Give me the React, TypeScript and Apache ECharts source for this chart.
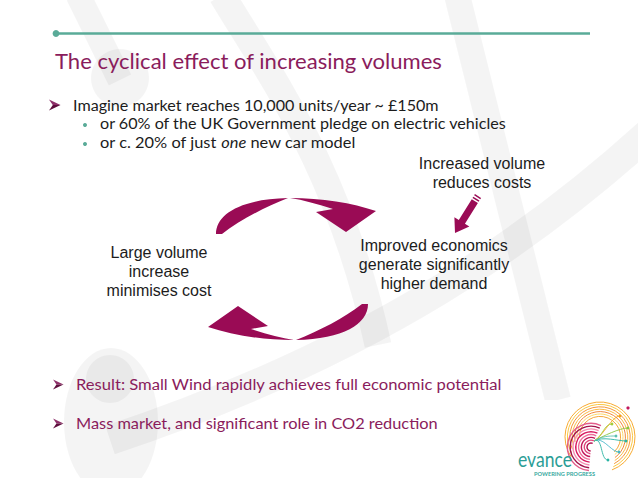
import React, { useEffect, useRef } from "react";
import * as echarts from "echarts";

// ---- slide content ----
const titleText = "The cyclical effect of increasing volumes";
const mainBullet = "Imagine market reaches 10,000 units/year ~ £150m";
const subBulletA = "or 60% of the UK Government pledge on electric vehicles";
const subBulletB = ["or c. 20% of just ", "one", " new car model"];
const resultLines = [
  "Result: Small Wind rapidly achieves full economic potential",
  "Mass market, and significant role in CO2 reduction",
];
const labelIncreased = ["Increased volume", "reduces costs"];
const labelImproved = ["Improved economics", "generate significantly", "higher demand"];
const labelLarge = ["Large volume", "increase", "minimises cost"];
const logoWord = "evance";
const logoTagline = "POWERING PROGRESS";

// ---- styling ----
const SLIDE_FONT = "Lato, 'Open Sans', sans-serif";
const DIAG_FONT = "'Liberation Sans', Arial, sans-serif";
const TITLE_COLOR = "#8a1c5c";
const MAGENTA = "#9a0b55";
const TEAL = "#5aab98";
const DARK = "#1c1c1c";
const BG_BAND = "rgba(0,0,0,0.045)";
const CENTRAL = 0.387; // Lato: baseline -> central offset (em)

let measureCtx: CanvasRenderingContext2D | null = null;
function measure(text: string, size: number, family: string, style = "normal", weight = "normal") {
  if (!measureCtx) measureCtx = document.createElement("canvas").getContext("2d");
  measureCtx!.font = `${style} ${weight} ${size}px ${family}`;
  return measureCtx!.measureText(text).width;
}

function txt(text: string, x: number, y: number, size: number, fill: string, o: any = {}) {
  const align = o.align || "left";
  const family = o.family || SLIDE_FONT;
  const fs = o.italic ? "italic" : "normal";
  const fw = o.bold ? "bold" : "normal";
  const font = `${fs} ${fw} ${size}px ${family}`;
  const sx = o.width ? o.width / measure(text, size, family, fs, fw) : o.scaleX || 1;
  return {
    type: "text",
    z: 10,
    x,
    y,
    scaleX: sx,
    style: {
      text,
      x: 0,
      y: 0,
      fill,
      font,
      textAlign: align,
      textVerticalAlign: "middle",
      align,
      verticalAlign: "middle",
    },
  };
}
// place by baseline for the slide font
function slideTxt(text: string, x: number, baseline: number, size: number, fill: string, o: any = {}) {
  return txt(text, x, baseline - CENTRAL * size, size, fill, o);
}

const CX = 292;
const CY = 269;
function pt(x: number, y: number, rot: boolean) {
  return rot ? `${2 * CX - x},${2 * CY - y}` : `${x},${y}`;
}
function leafPath(rot: boolean) {
  const f = (x: number, y: number) => pt(x, y, rot);
  return `M${f(216, 234)} C${f(216, 214)} ${f(241, 199)} ${f(288, 198)} C${f(265, 207)} ${f(240, 220)} ${f(222, 234)} Z`;
}
function arrowPath(rot: boolean) {
  const f = (x: number, y: number) => pt(x, y, rot);
  return `M${f(290, 198)} C${f(322, 198)} ${f(352, 203)} ${f(376, 211)} L${f(346, 232)} L${f(316, 212)} L${f(333, 209)} C${f(318, 204)} ${f(303, 200)} ${f(290, 198)} Z`;
}

function bulletArrow(els: any[], x0: number, y0: number, w: number, h: number) {
  const ym = y0 + h / 2;
  const tip = [x0 + w, ym];
  const notch = [x0 + w * 0.33, ym];
  els.push({ type: "polygon", z: 10, shape: { points: [[x0, y0], tip, notch] }, style: { fill: "#8e2f69" } });
  els.push({ type: "polygon", z: 10, shape: { points: [notch, tip, [x0, y0 + h]] }, style: { fill: "#5e0d3d" } });
}

function buildElements() {
  const els: any[] = [];

  // background watermark bands
  els.push({ type: "line", shape: { x1: 78, y1: -5, x2: 120, y2: 80 }, style: { stroke: BG_BAND, lineWidth: 25 } });
  els.push({ type: "circle", shape: { cx: 120, cy: 78, r: 29 }, style: { fill: BG_BAND } });
  els.push({
    type: "bezierCurve",
    shape: { x1: 222, y1: -5, cpx1: 270, cpy1: 75, cpx2: 340, cpy2: 170, x2: 378, y2: 345 },
    style: { stroke: BG_BAND, lineWidth: 27, fill: "none" },
  });
  els.push({ type: "line", shape: { x1: 457, y1: -5, x2: 558, y2: 400 }, style: { stroke: BG_BAND, lineWidth: 26 } });
  els.push({
    type: "bezierCurve",
    shape: { x1: 650, y1: 132, cpx1: 540, cpy1: 232, cpx2: 380, cpy2: 350, x2: 110, y2: 440 },
    style: { stroke: BG_BAND, lineWidth: 30, fill: "none" },
  });
  els.push({ type: "ellipse", shape: { cx: 111, cy: 422, rx: 47, ry: 74 }, style: { fill: BG_BAND } });
  els.push({ type: "circle", shape: { cx: 110, cy: 379, r: 24 }, style: { fill: BG_BAND } });

  // white box behind logo
  els.push({ type: "rect", shape: { x: 515, y: 400, width: 130, height: 85 }, style: { fill: "#ffffff" } });

  // teal rule
  els.push({ type: "line", shape: { x1: 56, y1: 33.5, x2: 590, y2: 33.5 }, style: { stroke: TEAL, lineWidth: 2.4 } });
  els.push({ type: "circle", shape: { cx: 56, cy: 33.5, r: 3.4 }, style: { fill: TEAL } });

  // title
  els.push(slideTxt(titleText, 55, 69, 21.6, TITLE_COLOR, { width: 388 }));

  // bullets
  bulletArrow(els, 49, 99.5, 11.5, 11);
  els.push(slideTxt(mainBullet, 73, 110.5, 16, DARK, { width: 366 }));
  els.push({ type: "circle", shape: { cx: 85, cy: 125, r: 2 }, style: { fill: TEAL } });
  els.push({ type: "circle", shape: { cx: 85, cy: 144, r: 2 }, style: { fill: TEAL } });
  els.push(slideTxt(subBulletA, 100, 129, 15, DARK, { width: 407 }));
  {
    const size = 15;
    const wTot =
      measure(subBulletB[0], size, SLIDE_FONT) +
      measure(subBulletB[1], size, SLIDE_FONT, "italic") +
      measure(subBulletB[2], size, SLIDE_FONT);
    const sx = 256 / wTot;
    let x = 100;
    subBulletB.forEach((s, i) => {
      const it = i === 1;
      els.push(slideTxt(s, x, 148, size, DARK, { italic: it, scaleX: sx }));
      x += measure(s, size, SLIDE_FONT, it ? "italic" : "normal") * sx;
    });
  }

  // result bullets
  bulletArrow(els, 53, 379.5, 10.5, 10);
  els.push(slideTxt(resultLines[0], 76, 390, 15.5, TITLE_COLOR, { width: 426 }));
  bulletArrow(els, 53, 418.5, 10.5, 10);
  els.push(slideTxt(resultLines[1], 76, 428.5, 15.5, TITLE_COLOR, { width: 362 }));

  // cycle labels
  labelIncreased.forEach((s, i) => els.push(txt(s, 482, 163 + i * 19.5, 16, DARK, { family: DIAG_FONT, align: "center" })));
  labelImproved.forEach((s, i) => els.push(txt(s, 434, 245 + i * 19, 16, DARK, { family: DIAG_FONT, align: "center" })));
  labelLarge.forEach((s, i) => els.push(txt(s, 159, 252 + i * 19, 16, DARK, { family: DIAG_FONT, align: "center" })));

  // cycle arrows
  els.push({ type: "cycLeafTop", z: 5, style: { fill: MAGENTA } });
  els.push({ type: "cycArrowTop", z: 5, style: { fill: MAGENTA } });
  els.push({ type: "cycLeafBottom", z: 5, style: { fill: MAGENTA } });
  els.push({ type: "cycArrowBottom", z: 5, style: { fill: MAGENTA } });

  // striped arrow
  const tail = [478, 196];
  const tip = [455, 233];
  const dx = tip[0] - tail[0];
  const dy = tip[1] - tail[1];
  const L = Math.hypot(dx, dy);
  const ux = dx / L, uy = dy / L, nx = -uy, ny = ux;
  const P = (t: number, s: number) => [tail[0] + ux * t + nx * s, tail[1] + uy * t + ny * s];
  els.push({
    type: "polygon",
    z: 5,
    shape: { points: [P(6, -3.6), P(L - 13, -3.6), P(L - 13, -8.8), P(L, 0), P(L - 13, 8.8), P(L - 13, 3.6), P(6, 3.6)] },
    style: { fill: MAGENTA },
  });
  [0, 3.1].forEach((t) =>
    els.push({
      type: "polygon",
      z: 5,
      shape: { points: [P(t, -3.6), P(t + 1.5, -3.6), P(t + 1.5, 3.6), P(t, 3.6)] },
      style: { fill: MAGENTA },
    })
  );

  // logo
  const lcx = 600, lcy = 437;
  const warm = ["#f6a21c", "#fbc22f", "#f28a22", "#f9b233", "#ee7a2a", "#fcd45a", "#f39c26"];
  warm.forEach((c, i) =>
    els.push({
      type: "arc",
      z: 6,
      shape: { cx: lcx, cy: lcy, r: 35 - i * 2.4, startAngle: ((145 + i * 6) * Math.PI) / 180, endAngle: ((430 - i * 4) * Math.PI) / 180, clockwise: true },
      style: { stroke: c, lineWidth: 0.9, fill: "none" },
    })
  );
  const pinks = ["#b0104f", "#e0467c", "#c2185b", "#ef6f9a", "#d81b60", "#f48fb1", "#a3124c", "#e35d8c"];
  pinks.forEach((c, i) =>
    els.push({
      type: "arc",
      z: 6,
      shape: { cx: 591, cy: 447, r: 4 + i * 2.8, startAngle: (95 * Math.PI) / 180, endAngle: (295 * Math.PI) / 180, clockwise: true },
      style: { stroke: c, lineWidth: 1.4, fill: "none" },
    })
  );
  const sprigs = [
    [620, 416, "#f6a21c"],
    [628, 428, "#8dc63f"],
    [626, 441, "#2bb3a3"],
    [619, 452, "#44b7c9"],
    [608, 460, "#2bb3a3"],
    [612, 424, "#a4cd39"],
    [616, 436, "#5bc0b0"],
  ];
  sprigs.forEach(([x, y, c]) => {
    els.push({
      type: "bezierCurve",
      z: 6,
      shape: { x1: 594, y1: 441, cpx1: 603, cpy1: 436, cpx2: (x as number) - 8, cpy2: y as number, x2: x, y2: y },
      style: { stroke: c, lineWidth: 0.9, fill: "none" },
    });
    els.push({ type: "circle", z: 6, shape: { cx: x, cy: y, r: 1.4 }, style: { fill: c } });
  });
  els.push({ type: "circle", z: 6, shape: { cx: 628, cy: 408, r: 1.6 }, style: { fill: "#c2185b" } });
  els.push(slideTxt(logoWord, 518, 466.5, 22, "#2a9d96", { width: 54 }));
  els.push(txt(logoTagline, 534, 474.5, 5.2, "#3aaa9f", { bold: true, width: 61 }));

  return els;
}

export default function App() {
  const ref = useRef<HTMLDivElement>(null);
  useEffect(() => {
    document.body.style.margin = "0";
    echarts.graphic.registerShape("cycLeafTop", echarts.graphic.extendPath(leafPath(false), {}) as any);
    echarts.graphic.registerShape("cycArrowTop", echarts.graphic.extendPath(arrowPath(false), {}) as any);
    echarts.graphic.registerShape("cycLeafBottom", echarts.graphic.extendPath(leafPath(true), {}) as any);
    echarts.graphic.registerShape("cycArrowBottom", echarts.graphic.extendPath(arrowPath(true), {}) as any);
    const chart = echarts.init(ref.current!, null, { renderer: "svg" });
    chart.setOption({
      animation: false,
      backgroundColor: "#ffffff",
      graphic: { elements: buildElements() },
    });
    return () => chart.dispose();
  }, []);
  return <div ref={ref} style={{ position: "absolute", left: 0, top: 0, width: 638, height: 478 }} />;
}
